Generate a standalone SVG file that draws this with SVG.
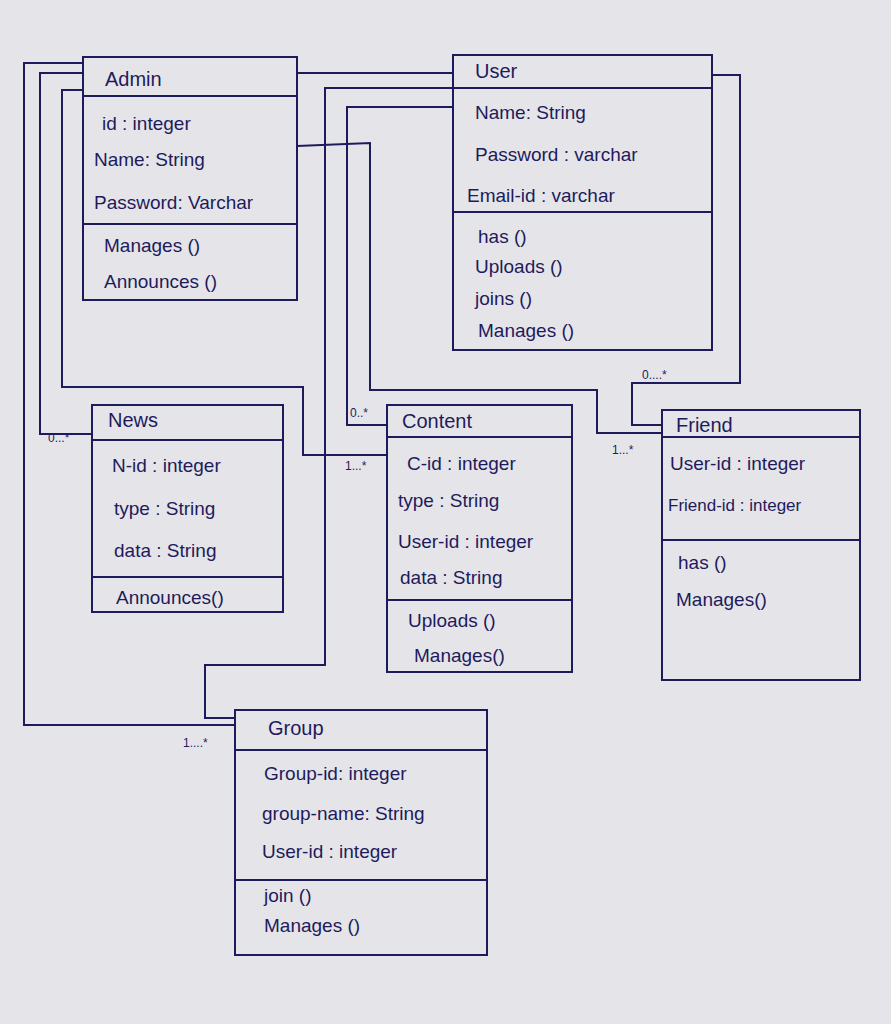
<svg xmlns="http://www.w3.org/2000/svg" width="891" height="1024" viewBox="0 0 891 1024">
<style>
.b{fill:none;stroke:#1e1b5c;stroke-width:2}
.c{fill:none;stroke:#1e1b5c;stroke-width:2}
text{font-family:"Liberation Sans",sans-serif;fill:#1e1b5c;font-size:19px}
.t{font-size:20px}
.m{font-size:12px}
</style>
<rect width="891" height="1024" fill="#e5e5e9"/>
<g id="connectors">
<polyline class="c" points="83,63 24,63 24,725 235,725"/>
<polyline class="c" points="83,73 40,73 40,434 92,434"/>
<polyline class="c" points="83,90 62,90 62,387 303,387 303,455 387,455"/>
<polyline class="c" points="297,73 453,73"/>
<polyline class="c" points="297,146 370,143 370,390 597,390 597,433 662,433"/>
<polyline class="c" points="453,88 325,88 325,665 205,665 205,718 235,718"/>
<polyline class="c" points="453,107 347,107 347,425 387,425"/>
<polyline class="c" points="712,75 740,75 740,383 632,383 632,425 662,425"/>
<text class="m" x="48" y="442">0...*</text>
<text class="m" x="183" y="747">1....*</text>
<text class="m" x="345" y="470">1...*</text>
<text class="m" x="350" y="417">0..*</text>
<text class="m" x="612" y="454">1...*</text>
<text class="m" x="642" y="379">0....*</text>
</g>
<g id="admin">
<rect class="b" x="83" y="57" width="214" height="243"/>
<line class="b" x1="83" y1="96" x2="297" y2="96"/>
<line class="b" x1="83" y1="224" x2="297" y2="224"/>
<text class="t" x="105" y="86">Admin</text>
<text x="102" y="130">id : integer</text>
<text x="94" y="166">Name: String</text>
<text x="94" y="209">Password: Varchar</text>
<text x="104" y="252">Manages ()</text>
<text x="104" y="288">Announces ()</text>
</g>
<g id="user">
<rect class="b" x="453" y="55" width="259" height="295"/>
<line class="b" x1="453" y1="88" x2="712" y2="88"/>
<line class="b" x1="453" y1="212" x2="712" y2="212"/>
<text class="t" x="475" y="78">User</text>
<text x="475" y="119">Name: String</text>
<text x="475" y="161">Password : varchar</text>
<text x="467" y="202">Email-id  : varchar</text>
<text x="478" y="243">has ()</text>
<text x="475" y="273">Uploads ()</text>
<text x="475" y="305">joins ()</text>
<text x="478" y="337">Manages ()</text>
</g>
<g id="news">
<rect class="b" x="92" y="405" width="191" height="207"/>
<line class="b" x1="92" y1="440" x2="283" y2="440"/>
<line class="b" x1="92" y1="577" x2="283" y2="577"/>
<text class="t" x="108" y="427">News</text>
<text x="112" y="472">N-id : integer</text>
<text x="114" y="515">type : String</text>
<text x="114" y="557">data : String</text>
<text x="116" y="604">Announces()</text>
</g>
<g id="content">
<rect class="b" x="387" y="405" width="185" height="267"/>
<line class="b" x1="387" y1="437" x2="572" y2="437"/>
<line class="b" x1="387" y1="600" x2="572" y2="600"/>
<text class="t" x="402" y="428">Content</text>
<text x="407" y="470">C-id : integer</text>
<text x="398" y="507">type : String</text>
<text x="398" y="548">User-id : integer</text>
<text x="400" y="584">data : String</text>
<text x="408" y="627">Uploads ()</text>
<text x="414" y="662">Manages()</text>
</g>
<g id="friend">
<rect class="b" x="662" y="410" width="198" height="270"/>
<line class="b" x1="662" y1="437" x2="860" y2="437"/>
<line class="b" x1="662" y1="540" x2="860" y2="540"/>
<text class="t" x="676" y="432">Friend</text>
<text x="670" y="470">User-id : integer</text>
<text x="668" y="511" style="font-size:17px">Friend-id : integer</text>
<text x="678" y="569">has ()</text>
<text x="676" y="606">Manages()</text>
</g>
<g id="group">
<rect class="b" x="235" y="710" width="252" height="245"/>
<line class="b" x1="235" y1="750" x2="487" y2="750"/>
<line class="b" x1="235" y1="880" x2="487" y2="880"/>
<text class="t" x="268" y="735">Group</text>
<text x="264" y="780">Group-id: integer</text>
<text x="262" y="820">group-name: String</text>
<text x="262" y="858">User-id : integer</text>
<text x="264" y="902">join ()</text>
<text x="264" y="932">Manages ()</text>
</g>
</svg>
